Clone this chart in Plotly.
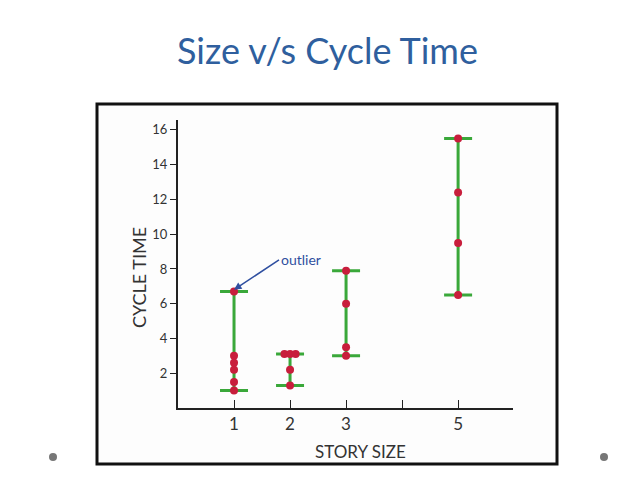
import plotly.graph_objects as go

sizes = [1, 2, 3, 5]
low = [1.0, 1.3, 3.0, 6.5]
high = [6.7, 3.1, 7.9, 15.5]
pt_x = [1, 1, 1, 1, 1, 1, 2, 2, 2, 2, 2, 3, 3, 3, 3, 5, 5, 5, 5]
pt_y = [1.0, 1.5, 2.2, 2.6, 3.0, 6.7, 3.1, 3.1, 3.1, 2.2, 1.3, 7.9, 6.0, 3.5, 3.0, 15.5, 12.4, 9.5, 6.5]
pt_dx = [0, 0, 0, 0, 0, 0, -0.1, 0, 0.1, 0, 0, 0, 0, 0, 0, 0, 0, 0, 0]
y_ticks = [2, 4, 6, 8, 10, 12, 14, 16]
x_ticks = [1, 2, 3, 4, 5]
x_labels = ["1", "2", "3", "", "5"]

mid = [(a + b) / 2 for a, b in zip(low, high)]
half = [(b - a) / 2 for a, b in zip(low, high)]

fig = go.Figure()
fig.add_trace(go.Scatter(
    x=sizes, y=mid, mode="markers", marker=dict(size=1, color="rgba(0,0,0,0)"),
    error_y=dict(type="data", array=half, color="#3aa83a", thickness=3, width=14),
    showlegend=False, hoverinfo="skip"))
fig.add_trace(go.Scatter(
    x=[a + d for a, d in zip(pt_x, pt_dx)], y=pt_y, mode="markers",
    marker=dict(size=8, color="#c81e3c"), showlegend=False))

fig.update_layout(
    width=638, height=478, margin=dict(l=0, r=0, t=0, b=0),
    paper_bgcolor="#f7f7f7", plot_bgcolor="rgba(0,0,0,0)",
    font=dict(family="Lato", color="#222"),
    xaxis=dict(domain=[170/638, 505/638], range=[0, 5.98], showgrid=False, zeroline=False,
               showline=True, linecolor="#222", linewidth=2, ticks="inside", ticklen=8,
               tickcolor="#222", tickvals=x_ticks, ticktext=x_labels,
               tickfont=dict(size=17, color="#333")),
    yaxis=dict(domain=[1-400/478, 1-112/478], range=[0, 16.57], showgrid=False, zeroline=False,
               showline=True, linecolor="#222", linewidth=2, ticks="outside", ticklen=6,
               tickcolor="#222", tickvals=y_ticks, tickfont=dict(size=13, color="#333")),
    shapes=[
        dict(type="rect", xref="paper", yref="paper", x0=0, x1=1, y0=0, y1=1,
             fillcolor="#ffffff", line=dict(width=0), layer="below"),
        dict(type="rect", xref="paper", yref="paper", x0=89/638, x1=549/638,
             y0=1-456/478, y1=1-96/478, fillcolor="#fdfdfd",
             line=dict(color="#111", width=3), layer="below"),
        dict(type="circle", xref="paper", yref="paper", x0=41/638, x1=49/638,
             y0=1-453/478, y1=1-445/478, fillcolor="#777", line=dict(width=0)),
        dict(type="circle", xref="paper", yref="paper", x0=592/638, x1=600/638,
             y0=1-453/478, y1=1-445/478, fillcolor="#777", line=dict(width=0)),
    ],
    annotations=[
        dict(text="Size v/s Cycle Time", xref="paper", yref="paper", x=0.5, y=1-42/478,
             yanchor="middle", showarrow=False, font=dict(size=36, color="#2f5f9e", family="Lato")),
        dict(text="CYCLE TIME", xref="paper", yref="paper", x=118/638, y=1-270/478,
             yanchor="middle", showarrow=False, textangle=-90, font=dict(size=18, color="#333")),
        dict(text="STORY SIZE", xref="paper", yref="paper", x=352/638, y=1-443/478,
             yanchor="middle", showarrow=False, font=dict(size=17, color="#333")),
        dict(text="outlier", x=1, y=6.8, xref="x", yref="y", ax=45, ay=-30,
             showarrow=True, arrowhead=2, arrowcolor="#2f4fa0", arrowwidth=1.5,
             xanchor="left", font=dict(size=14, color="#2f4fa0", family="Lato")),
    ],
)
fig.write_html("out.html")
